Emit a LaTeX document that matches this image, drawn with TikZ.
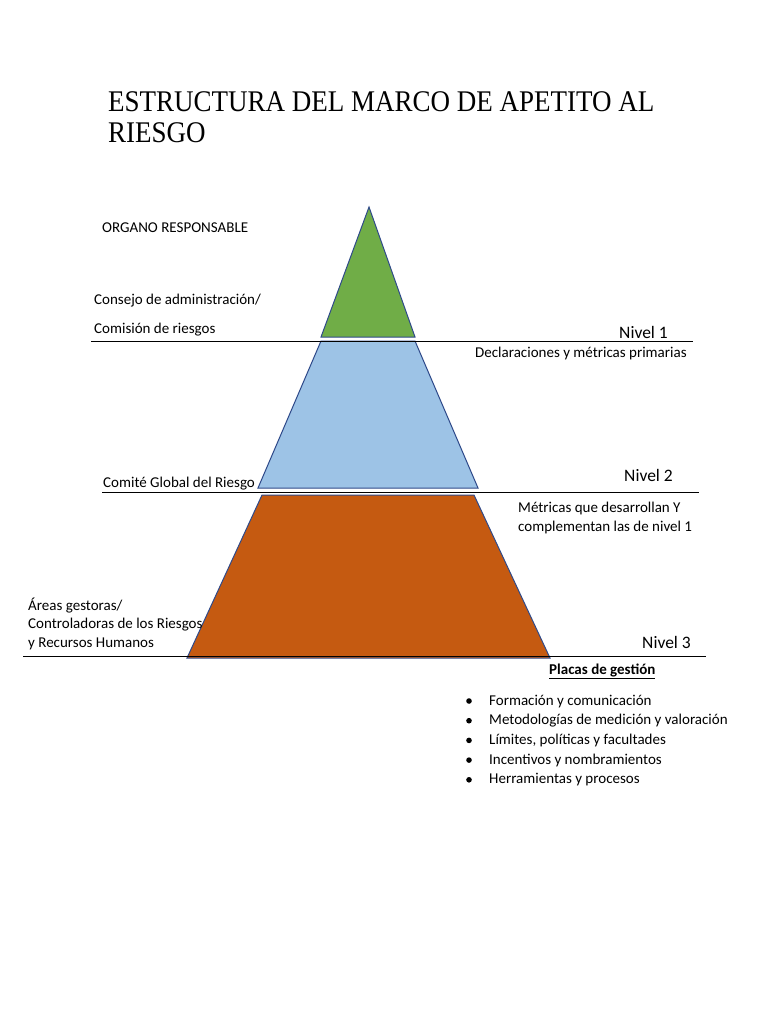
\documentclass[tikz,border=0pt]{standalone}
\usepackage{fontspec}
\setmainfont{Carlito}
\newfontfamily\titlefont[FakeStretch=0.9]{Liberation Serif}
\definecolor{gr}{HTML}{70AD47}
\definecolor{bl}{HTML}{9DC3E6}
\definecolor{orr}{HTML}{C55A11}
\definecolor{edge}{HTML}{2F4A8A}
\begin{document}
\begin{tikzpicture}[x=1pt,y=-1pt,
  lbl/.style={anchor=base west,inner sep=0pt,font=\fontsize{15}{17}\selectfont},
  niv/.style={anchor=base west,inner sep=0pt,font=\fontsize{17.5}{19}\selectfont},
  shp/.style={draw=edge,line width=1pt},
  hl/.style={line width=0.8pt}]
\useasboundingbox (0,0) rectangle (768,1024);
\node[anchor=base west,inner sep=0pt,font=\titlefont\fontsize{30}{32}\selectfont] (t1) at (108,112) {ESTRUCTURA DEL MARCO DE APETITO AL};
\node[anchor=base west,inner sep=0pt,font=\titlefont\fontsize{30}{32}\selectfont] (t2) at (108,143) {RIESGO};
\filldraw[shp,fill=gr] (369,207) -- (415,337) -- (321,337) -- cycle;
\filldraw[shp,fill=bl] (321,341) -- (415,341) -- (478,488) -- (258,488) -- cycle;
\filldraw[shp,fill=orr] (262,495) -- (474,495) -- (550,658) -- (187,658) -- cycle;
\coordinate (a1) at (91,341); \coordinate (b1) at (693,341);
\coordinate (a2) at (102,492); \coordinate (b2) at (699,492);
\coordinate (a3) at (23,656); \coordinate (b3) at (706,656);
\draw[hl] (a1) -- (b1); \draw[hl] (a2) -- (b2); \draw[hl] (a3) -- (b3);
\node[lbl] (o) at (102,233) {ORGANO RESPONSABLE};
\node[lbl] (c1) at (94,304) {Consejo de administración/};
\node[lbl] (c2) at (94,333) {Comisión de riesgos};
\node[niv] (n1) at (619,338) {Nivel 1};
\node[lbl] (d1) at (475,357) {Declaraciones y métricas primarias};
\node[niv] (n2) at (624,481) {Nivel 2};
\node[lbl] (cg) at (103,487) {Comité Global del Riesgo};
\node[lbl] (m1) at (518,512) {Métricas que desarrollan Y};
\node[lbl] (m2) at (518,531) {complementan las de nivel 1};
\node[lbl] (ar1) at (28,610) {Áreas gestoras/};
\node[lbl] (ar2) at (28,628) {Controladoras de los Riesgos};
\node[lbl] (ar3) at (28,647) {y Recursos Humanos};
\node[niv] (n3) at (642,648) {Nivel 3};
\node[lbl,font=\bfseries\fontsize{15}{17}\selectfont] (pg) at (549,674) {\underline{Placas de gestión}};
\foreach \t [count=\i] in {{Formación y comunicación},{Metodologías de medición y valoración},{Límites, políticas y facultades},{Incentivos y nombramientos},{Herramientas y procesos}}{
  \fill (469,{701+(\i-1)*19.7}) circle (2.8);
  \node[lbl] (b\i) at (489,{705+(\i-1)*19.7}) {\t};
}
\end{tikzpicture}
\end{document}
